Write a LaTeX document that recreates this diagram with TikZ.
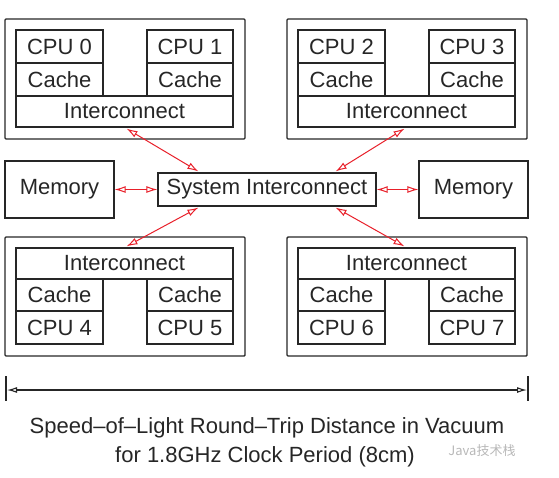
\documentclass[tikz,border=0pt]{standalone}
\usepackage{fontspec}
\setmainfont{Liberation Sans}
\newfontfamily\cjk{Noto Sans CJK SC}
\usetikzlibrary{arrows.meta,calc}
\definecolor{ink}{HTML}{262626}
\definecolor{redarr}{HTML}{E8202A}
\definecolor{wm}{HTML}{B8B8B8}
\tikzset{
  box/.style={draw=ink, line width=1.2pt, inner sep=0pt, text=ink,
    font=\fontsize{22}{25}\selectfont, anchor=center},
  outerbox/.style={draw=ink, line width=1.4pt, rounded corners=1pt},
  link/.style={draw=redarr, line width=1pt,
    {Latex[open,length=11pt,width=7pt]}-{Latex[open,length=11pt,width=7pt]}},
  dimline/.style={draw=ink, line width=1.1pt,
    {Latex[open,length=10pt,width=6pt]}-{Latex[open,length=10pt,width=6pt]}},
  caption/.style={text=ink, font=\fontsize{22}{25}\selectfont, inner sep=0pt}
}
% box helper: name, x1,y1,x2,y2, text
\newcommand{\bx}[6]{\node[box, minimum width={#4-#2}, minimum height={#5-#3}] (#1) at ({(#2+#4)/2},{(#3+#5)/2}) {#6};}
\begin{document}
\begin{tikzpicture}[x=1pt,y=-1pt]
\useasboundingbox (0,0) rectangle (559,477);
% ---- top-left module
\draw[outerbox] (5,19) rectangle (245,139);
\bx{cpu0}{16}{30}{103}{63}{CPU 0}
\bx{ca0}{16}{63}{103}{96}{Cache}
\bx{cpu1}{147}{30}{233}{63}{CPU 1}
\bx{ca1}{147}{63}{233}{96}{Cache}
\bx{icTL}{16}{96}{233}{127}{Interconnect}
% ---- top-right module
\draw[outerbox] (287,19) rectangle (527,139);
\bx{cpu2}{298}{30}{385}{63}{CPU 2}
\bx{ca2}{298}{63}{385}{96}{Cache}
\bx{cpu3}{429}{30}{515}{63}{CPU 3}
\bx{ca3}{429}{63}{515}{96}{Cache}
\bx{icTR}{298}{96}{515}{127}{Interconnect}
% ---- bottom-left module
\draw[outerbox] (5,237) rectangle (245,356);
\bx{icBL}{16}{248}{233}{279}{Interconnect}
\bx{ca4}{16}{279}{103}{311}{Cache}
\bx{cpu4}{16}{311}{103}{344}{CPU 4}
\bx{ca5}{147}{279}{233}{311}{Cache}
\bx{cpu5}{147}{311}{233}{344}{CPU 5}
% ---- bottom-right module
\draw[outerbox] (287,237) rectangle (527,356);
\bx{icBR}{298}{248}{515}{279}{Interconnect}
\bx{ca6}{298}{279}{385}{311}{Cache}
\bx{cpu6}{298}{311}{385}{344}{CPU 6}
\bx{ca7}{429}{279}{515}{311}{Cache}
\bx{cpu7}{429}{311}{515}{344}{CPU 7}
% ---- middle row
\bx{memL}{5}{161}{114}{218}{Memory}
\bx{sys}{158}{173}{376}{206}{System Interconnect}
\bx{memR}{419}{161}{528}{218}{Memory}
% ---- red links
\draw[link] ($(icTL.south)+(2,1)$) -- ($(sys.north west)+(41,-1)$);
\draw[link] ($(icTR.south)+(-2,1)$) -- ($(sys.north east)+(-41,-1)$);
\draw[link] ($(sys.south west)+(41,1)$) -- ($(icBL.north)+(2,-1)$);
\draw[link] ($(sys.south east)+(-41,1)$) -- ($(icBR.north)+(-2,-1)$);
\draw[link] (memL.east) -- (sys.west);
\draw[link] (sys.east) -- (memR.west);
% ---- dimension line
\coordinate (dl) at (6,390);
\coordinate (dr) at (528,390);
\draw[ink, line width=1.2pt] ($(dl)+(0,-14)$) -- ($(dl)+(0,11)$);
\draw[ink, line width=1.2pt] ($(dr)+(0,-14)$) -- ($(dr)+(0,11)$);
\draw[dimline] ($(dl)+(1,0)$) -- ($(dr)+(-1,0)$);
\node[caption] (cap1) at (267,428) {Speed–of–Light Round–Trip Distance in Vacuum};
\node[caption] (cap2) at (265,457) {for 1.8GHz Clock Period (8cm)};
\node[text=wm, font=\cjk\fontsize{13}{15}\selectfont, inner sep=0pt] (wmk) at (482,451) {Java技术栈};
\end{tikzpicture}
\end{document}
